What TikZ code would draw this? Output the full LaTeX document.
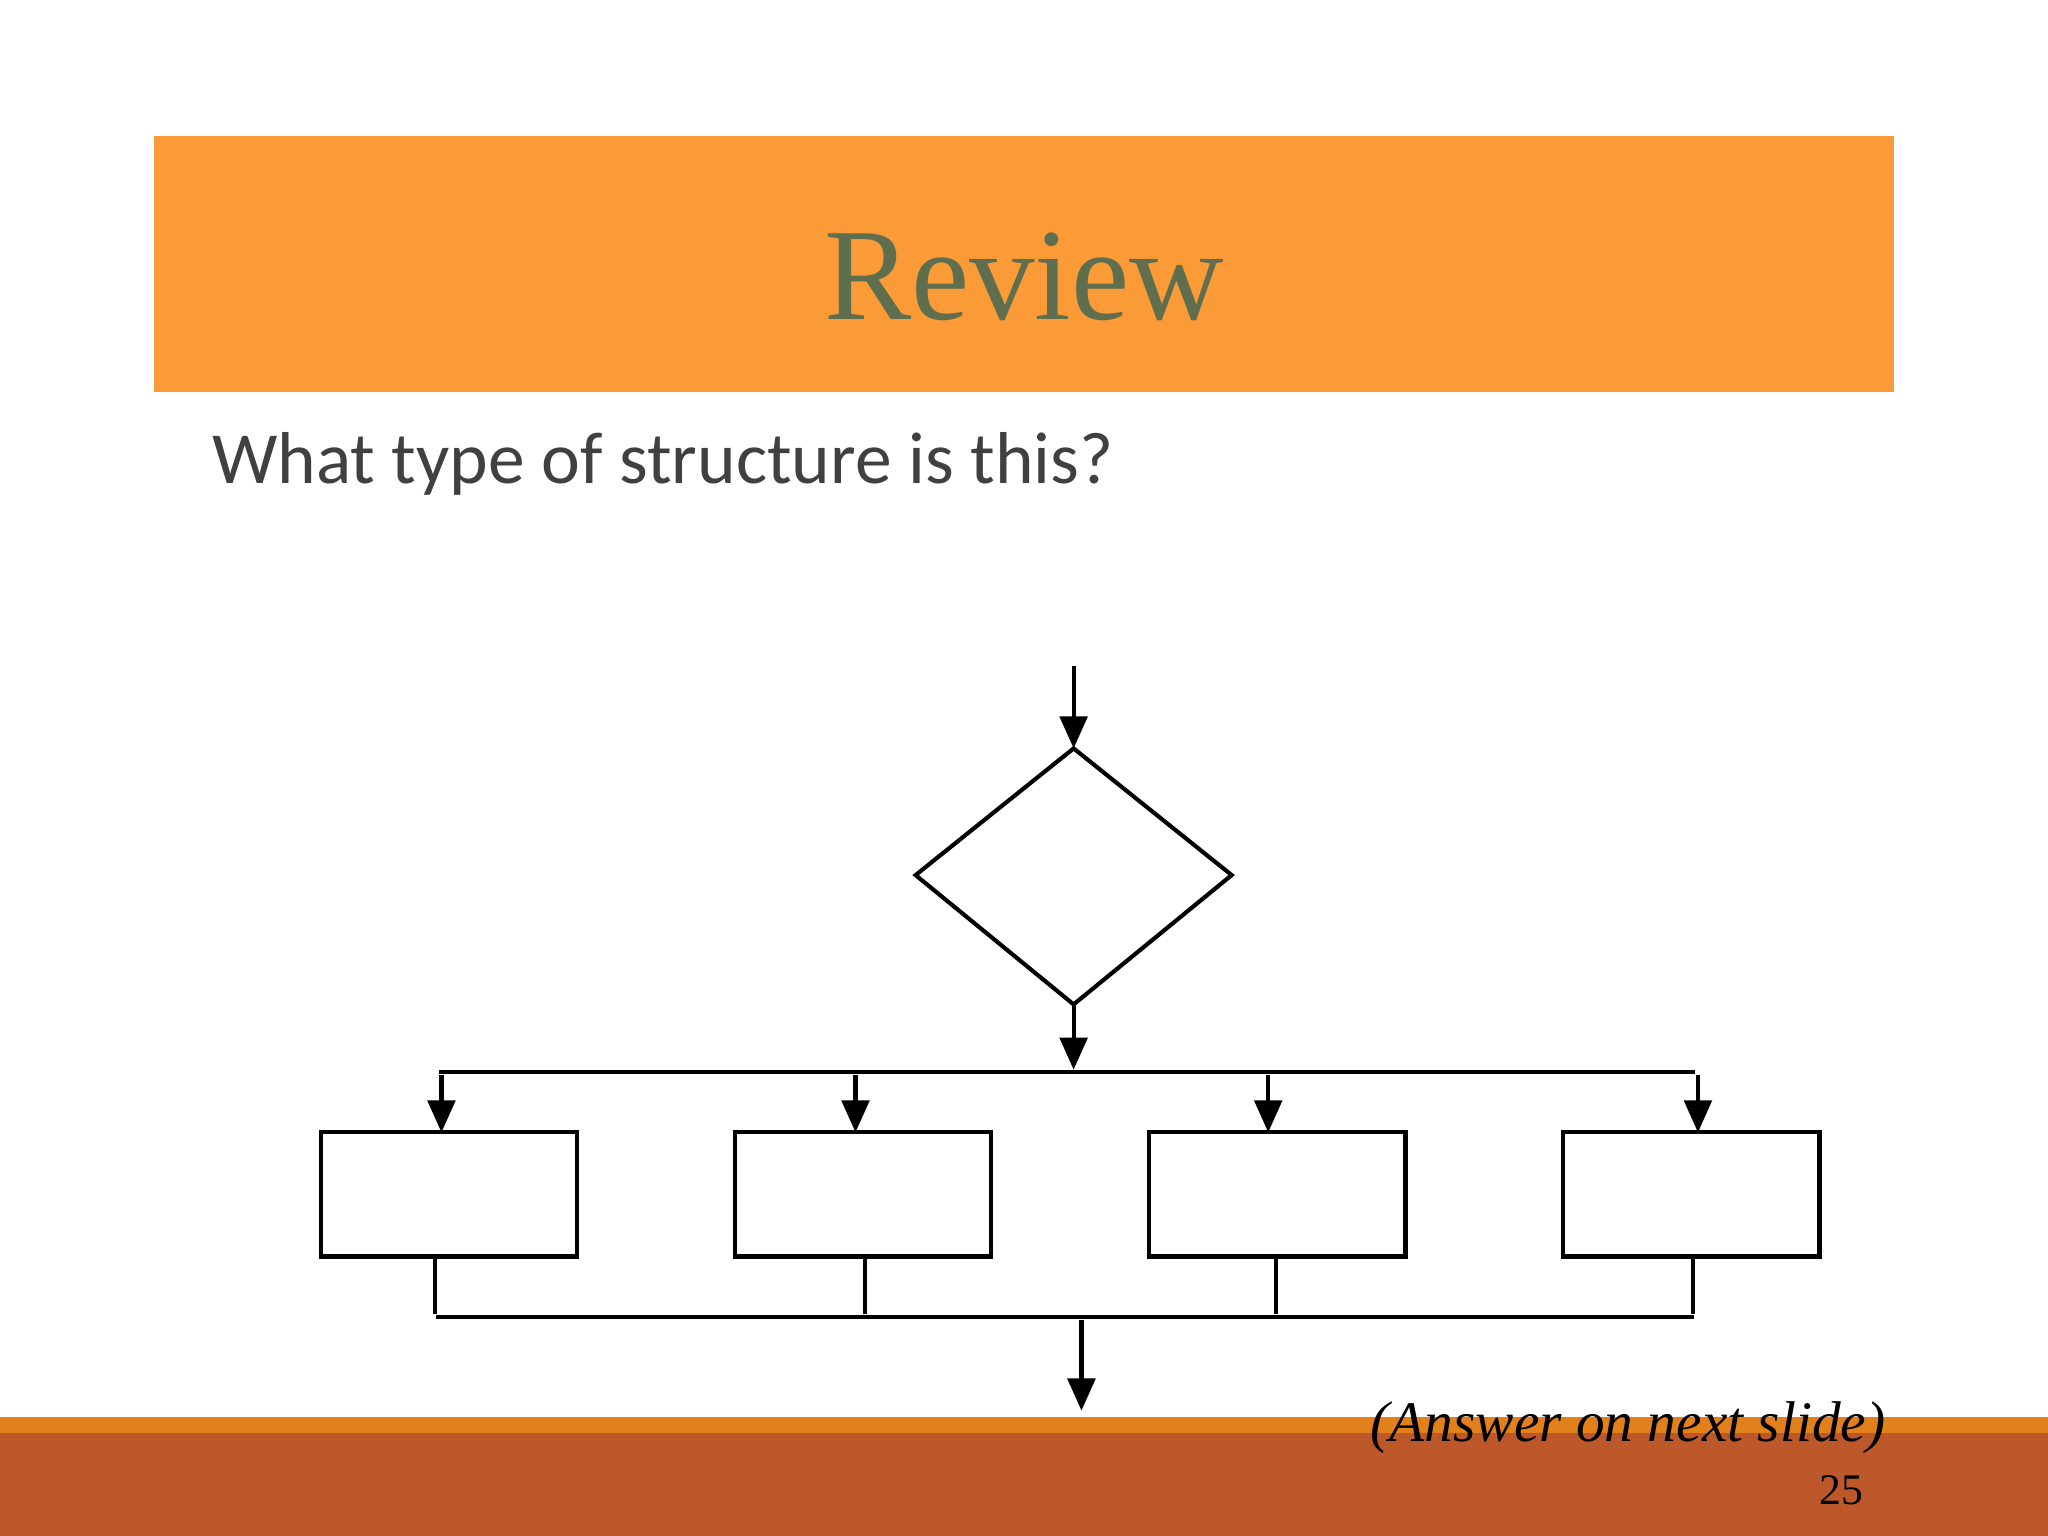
\documentclass[tikz,border=0pt]{standalone}
\usepackage{fontspec}
\setmainfont{Liberation Serif}
\newfontfamily\qfont{Carlito}
\usetikzlibrary{arrows.meta,shapes.geometric}
\definecolor{hdr}{HTML}{FB9B38}
\definecolor{stripe}{HTML}{E2801C}
\definecolor{foot}{HTML}{BD582B}
\definecolor{ttl}{HTML}{5F6E4F}
\definecolor{qtxt}{HTML}{404040}
\begin{document}
\begin{tikzpicture}[x=0.01cm,y=-0.01cm,
  ln/.style={line width=0.9pt,black},
  arr/.style={ln,-{Triangle[length=7pt,width=6pt]}},
  box/.style={draw,line width=0.9pt,minimum width=1.96cm,minimum height=0.95cm,inner sep=0pt}]
\useasboundingbox (0,0) rectangle (1568,1176);
\fill[white] (0,0) rectangle (1568,1176);
\fill[hdr] (118,104) rectangle (1450,300);
\fill[stripe] (0,1085) rectangle (1568,1098);
\fill[foot] (0,1097) rectangle (1568,1176);
\node[text=ttl,font=\fontsize{28.5}{32}\selectfont] (title) at (784,212) {Review};
\node[anchor=west,text=qtxt,font=\qfont\fontsize{16}{19}\selectfont] (q) at (150,355) {What type of structure is this?};
\node[anchor=east,font=\itshape\fontsize{12.5}{15}\selectfont] (ans) at (1456,1093) {(Answer on next slide)};
\node[font=\fontsize{9.5}{11}\selectfont] (pg) at (1410,1141) {25};
% diamond
\coordinate (dt) at (822,573); \coordinate (dl) at (701,670);
\coordinate (dr) at (943,670); \coordinate (db) at (822,769);
\draw[ln] (dt) -- (dr) -- (db) -- (dl) -- cycle;
\coordinate (in) at (822,510);
\draw[arr] (in) -- (dt);
\coordinate (bus) at (822,819);
\draw[arr] (db) -- (bus);
\coordinate (hl) at (336,821); \coordinate (hr) at (1298,821);
\draw[ln] (hl) -- (hr);
\node[box] (b1) at (344,914.5) {};
\node[box] (b2) at (661,914.5) {};
\node[box] (b3) at (978,914.5) {};
\node[box] (b4) at (1295,914.5) {};
\foreach \x/\b in {338/b1,655/b2,971/b3,1300/b4}{
  \coordinate (t\b) at (\x,823);
  \draw[arr] (t\b) -- (\x,867);
}
\foreach \x/\b in {333/b1,662/b2,977/b3,1296/b4}{
  \coordinate (u\b) at (\x,1006);
  \draw[ln] (\x,960) -- (u\b);
}
\coordinate (ll) at (334,1008); \coordinate (lr) at (1297,1008);
\draw[ln] (ll) -- (lr);
\coordinate (os) at (828,1011); \coordinate (oe) at (828,1080);
\draw[arr] (os) -- (oe);
\end{tikzpicture}
\end{document}
